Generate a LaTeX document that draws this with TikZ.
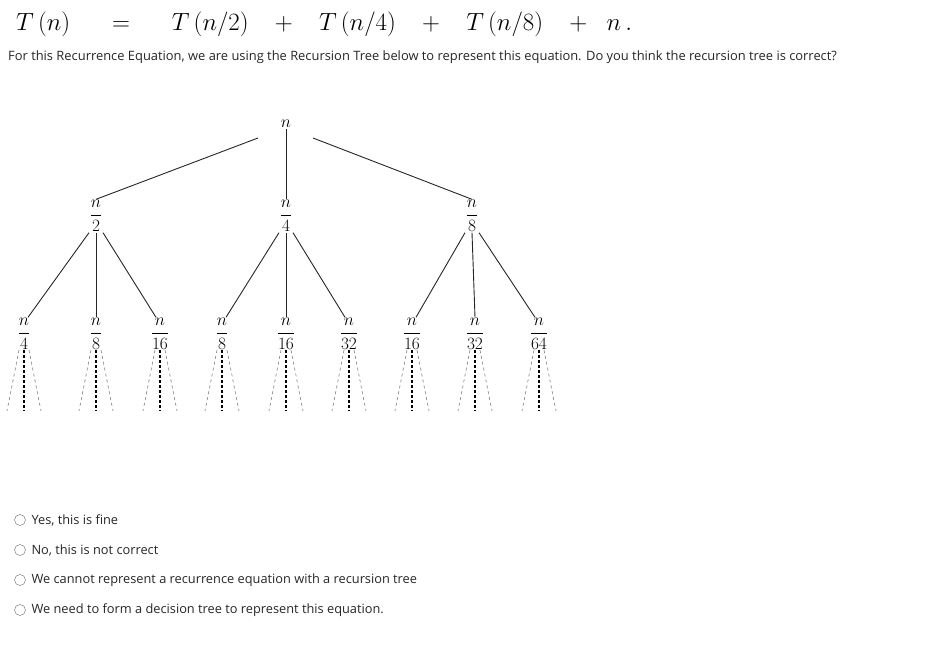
\documentclass[tikz,border=0pt]{standalone}
\usepackage{fontspec}
\newfontfamily\uif{Open Sans}
\begin{document}
\begin{tikzpicture}[x=1pt,y=-1pt,
  fr/.style={inner sep=1pt,font=\fontsize{17}{17}\selectfont,execute at begin node=$\displaystyle,execute at end node=$},
  edge/.style={line width=0.9pt,black!85},
  dv/.style={densely dashed,line width=1.1pt},
  ds/.style={dashed,line width=0.6pt,black!50},
  opt/.style={anchor=west,font=\uif\fontsize{12.8}{14}\selectfont,text=black!85},
  rad/.style={circle,draw=black!60,minimum size=11pt,inner sep=0pt}]
\useasboundingbox (0,0) rectangle (927,648);
\node[anchor=west,inner sep=0pt,font=\fontsize{35}{38}\selectfont] (title) at (16,24) {$T\,(n)\quad=\quad T\,(n/2)\;\;\;+\;\;\;T\,(n/4)\;\;\;+\;\;\;T\,(n/8)\;\;\;+\;\;n\,.$};
\node[anchor=west,inner sep=0pt,font=\uif\fontsize{12.9}{14}\selectfont,text=black!85] (q) at (8,57) {For this Recurrence Equation, we are using the Recursion Tree below to represent this equation. Do you think the recursion tree is correct?};
\node[fr] (r) at (286,124) {n};
\node[fr] (a) at (96,216) {\frac{n}{2}};
\node[fr] (b) at (286,216) {\frac{n}{4}};
\node[fr] (c) at (472,216) {\frac{n}{8}};
\draw[edge] (258,138) -- (a.north);
\draw[edge] (313,138) -- (c.north);
\draw[edge] (r.south) -- (b.north);
\foreach \nm/\x/\d in {l1/24/4,l2/96/8,l3/160/16,l4/222/8,l5/286/16,l6/349/32,l7/412/16,l8/475/32,l9/539/64}{
  \node[fr] (\nm) at (\x,334) {\frac{n}{\d}};
  \coordinate (\nm t) at (\x,350);
  \coordinate (\nm b) at (\x,411);
  \coordinate (\nm l) at (\x-17,411);
  \coordinate (\nm r) at (\x+17,411);
  \draw[dv] (\nm t) -- (\nm b);
  \draw[ds] ([xshift=-5]\nm t) -- (\nm l);
  \draw[ds] ([xshift=5]\nm t) -- (\nm r);
}
\foreach \p/\ll/\mm/\rr in {a/l1/l2/l3,b/l4/l5/l6,c/l7/l8/l9}{
  \draw[edge] ([xshift=-7]\p.south) -- ([xshift=4]\ll.north);
  \draw[edge] (\p.south) -- (\mm.north);
  \draw[edge] ([xshift=7]\p.south) -- ([xshift=-4]\rr.north);
}
\foreach \i/\y/\t in {1/520/{Yes, this is fine},2/550/{No, this is not correct},3/580/{We cannot represent a recurrence equation with a recursion tree},4/610/{We need to form a decision tree to represent this equation.}}{
  \node[rad] (c\i) at (20,\y) {};
  \node[opt] (o\i) at (28,\y) {\t};
}
\end{tikzpicture}
\end{document}
